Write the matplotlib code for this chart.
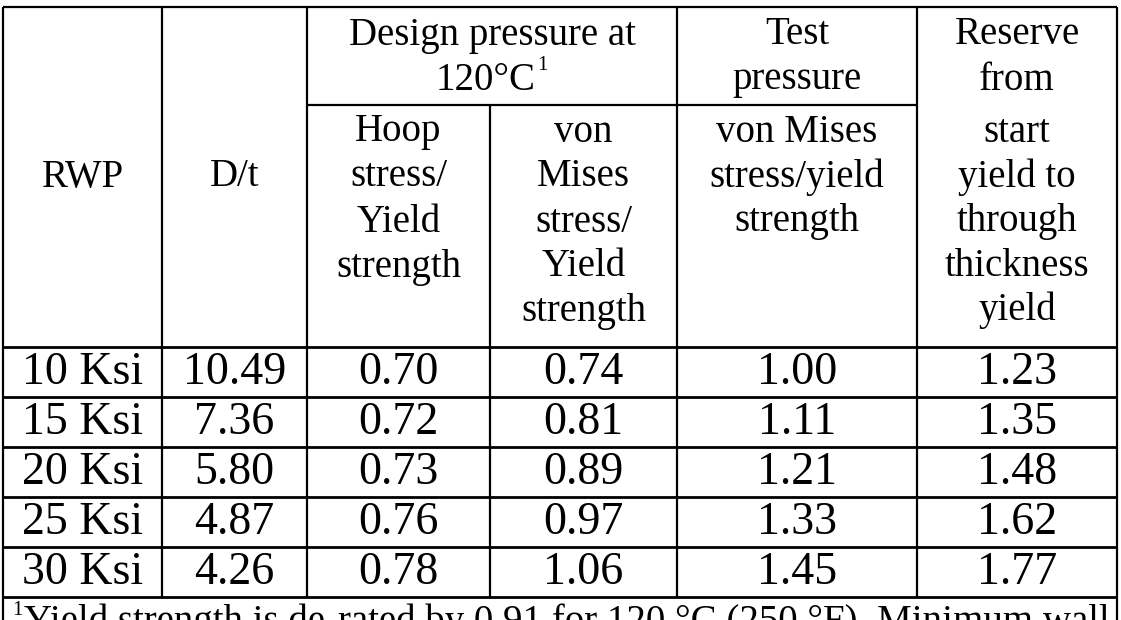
import matplotlib
matplotlib.use("Agg")
import matplotlib.pyplot as plt

rwp = ["10 Ksi", "15 Ksi", "20 Ksi", "25 Ksi", "30 Ksi"]
d_t = ["10.49", "7.36", "5.80", "4.87", "4.26"]
hoop = ["0.70", "0.72", "0.73", "0.76", "0.78"]
von_mises = ["0.74", "0.81", "0.89", "0.97", "1.06"]
test_vm = ["1.00", "1.11", "1.21", "1.33", "1.45"]
reserve = ["1.23", "1.35", "1.48", "1.62", "1.77"]
footnote = "Yield strength is de-rated by 0.91 for 120 °C (250 °F). Minimum wall"

W, H = 1121, 620
fig = plt.figure(figsize=(W/100, H/100), dpi=100)
ax = fig.add_axes([0, 0, 1, 1])
ax.set_xlim(0, W); ax.set_ylim(H, 0); ax.axis("off")
FONT = "Liberation Serif"
HS, DS = 28, 33
lw = 1.6

xs = [3, 162, 307, 490, 677, 917, 1117]
cx = [(xs[i]+xs[i+1])/2 for i in range(6)]
top = 7
rows = [347, 397, 447, 497, 547, 597]

def hl(y, x0, x1, w=lw):
    ax.plot([x0, x1], [y, y], color="black", lw=w, solid_capstyle="butt")
def vl(x, y0, y1, w=lw):
    ax.plot([x, x], [y0, y1], color="black", lw=w, solid_capstyle="butt")

hl(top, xs[0], xs[-1])
hl(105, xs[2], xs[5])
for y in rows:
    hl(y, xs[0], xs[-1], 2.0)
for i, x in enumerate(xs):
    if i in (0, len(xs)-1):
        vl(x, top, H)
    elif i == 3:
        vl(x, 105, rows[-1])
    else:
        vl(x, top, rows[-1])

def t(x, y, s, size=HS, **kw):
    return ax.text(x, y, s, fontsize=size, family=FONT, ha="center", va="center", **kw)

t(cx[0], 177, "RWP")
t(cx[1], 177, "D/t")
dmid = (xs[2]+xs[4])/2
t(dmid, 35, "Design pressure at")
c120 = t(dmid-6, 80, "120°C")
for i, s in enumerate(["Hoop", "stress/", "Yield", "strength"]):
    t(cx[2], 132+45*i, s)
for i, s in enumerate(["von", "Mises", "stress/", "Yield", "strength"]):
    t(cx[3], 132+45*i, s)
for y, s in zip([35, 80, 132, 177, 222], ["Test", "pressure", "von Mises", "stress/yield", "strength"]):
    t(cx[4], y, s)
for y, s in zip([35, 80, 132, 177, 222, 266, 310], ["Reserve", "from", "start", "yield to", "through", "thickness", "yield"]):
    t(cx[5], y, s)

cols = [rwp, d_t, hoop, von_mises, test_vm, reserve]
for ci, col in enumerate(cols):
    for ri, v in enumerate(col):
        t(cx[ci], (rows[ri]+rows[ri+1])/2 + 1, v, size=DS)

fig.canvas.draw()
bb = c120.get_window_extent()
ax.text(bb.x1 + 1, 66, "1", fontsize=15, family=FONT, ha="left", va="center")
ax.text(12, 601, "1", fontsize=15, family=FONT, ha="left", va="top")
ax.text(24, 603, footnote, fontsize=HS, family=FONT, ha="left", va="top")

fig.savefig("out.png", dpi=100)
